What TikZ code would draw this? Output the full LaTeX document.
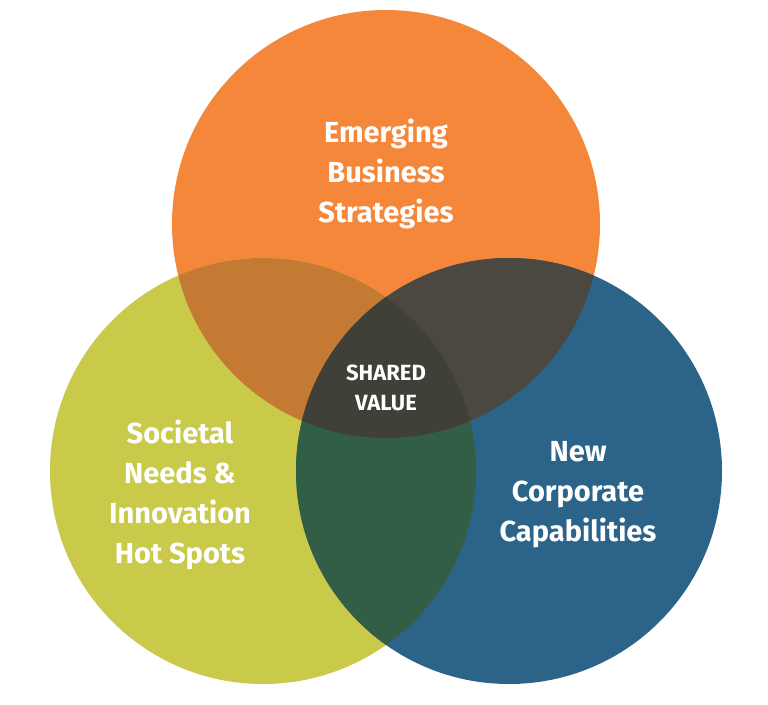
\documentclass[tikz,border=0pt]{standalone}
\usepackage{fontspec}
\setmainfont{Fira Sans}
\definecolor{cor}{HTML}{F5873A}
\definecolor{cgr}{HTML}{C9C94A}
\definecolor{cbl}{HTML}{2C6489}
\definecolor{cog}{HTML}{C47A33}
\definecolor{cob}{HTML}{4A4840}
\definecolor{cgb}{HTML}{335E46}
\definecolor{call}{HTML}{403F38}
\begin{document}
\begin{tikzpicture}[x=1pt,y=-1pt,
  lbl/.style={text=white,font=\fontsize{29}{40}\selectfont\bfseries,align=center},
  slbl/.style={text=white,font=\fontsize{22}{30}\selectfont\bfseries,align=center}]
\useasboundingbox (0,0) rectangle (768,704);
\fill[white] (0,0) rectangle (768,704);
\def\O{(386,224) circle (214)}
\def\G{(263,471) circle (213)}
\def\B{(509,471) circle (213)}
\fill[cor] \O;
\fill[cgr] \G;
\fill[cbl] \B;
\begin{scope}\clip \O; \fill[cog] \G; \fill[cob] \B; \end{scope}
\begin{scope}\clip \G; \fill[cgb] \B; \end{scope}
\begin{scope}\clip \O; \clip \G; \fill[call] \B; \end{scope}
\node[lbl] (e) at (386,174) {Emerging\\Business\\Strategies};
\node[lbl] (s) at (180,495) {Societal\\Needs \&\\Innovation\\Hot Spots};
\node[lbl] (n) at (578,495) {New\\Corporate\\Capabilities};
\node[slbl] (v) at (386,388) {SHARED\\VALUE};
\end{tikzpicture}
\end{document}
